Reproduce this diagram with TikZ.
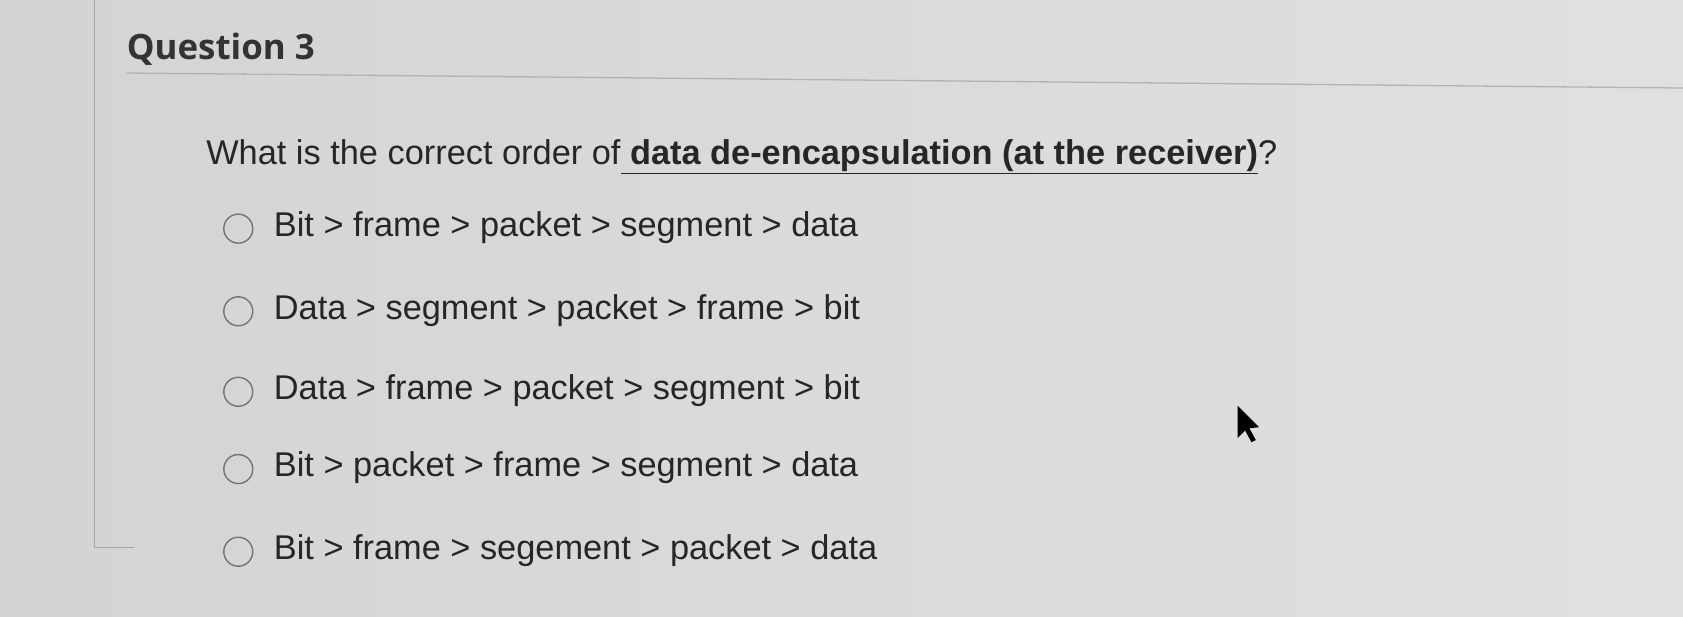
\documentclass[tikz,border=0pt]{standalone}
\usepackage{fontspec}
\setmainfont{Liberation Sans}
\newfontfamily\headfont{Open Sans}
\begin{document}
\begin{tikzpicture}[x=1pt,y=-1pt,
  opt/.style={anchor=west,inner sep=0pt,font=\fontsize{32}{34}\selectfont,text=black!85},
  radio/.style={draw=black!55,line width=1.3pt,circle,minimum size=27pt,inner sep=0pt}]
\fill[left color=black!17,right color=black!12] (0,0) rectangle (1568,574);
\useasboundingbox (0,0) rectangle (1568,574);
\draw[black!35,line width=1.5pt] (88,0) -- (88,510) -- (125,510);
\draw[black!30,line width=1.2pt] (118,68) -- (1568,82);
\node[anchor=west,inner sep=0pt,font=\headfont\bfseries\fontsize{32.5}{34}\selectfont,text=black!80] (q) at (118,46) {Question 3};
\node[opt] (stem) at (192,146) {What is the correct order of\underline{ \textbf{data de-encapsulation (at the receiver)}}?};
\foreach \i/\y/\t in {a/212/Bit > frame > packet > segment > data,
  b/289/Data > segment > packet > frame > bit,
  c/364/Data > frame > packet > segment > bit,
  d/436/Bit > packet > frame > segment > data,
  e/513/Bit > frame > segement > packet > data}{
  \node[radio] (r\i) at (222,\y+1) {};
  \node[opt] (t\i) at (255,\y) {\t};
}
\fill[black] (1153,378) -- (1153,408) -- (1160,401) -- (1166,412) -- (1170,410) -- (1164,399) -- (1173,398) -- cycle;
\end{tikzpicture}
\end{document}
